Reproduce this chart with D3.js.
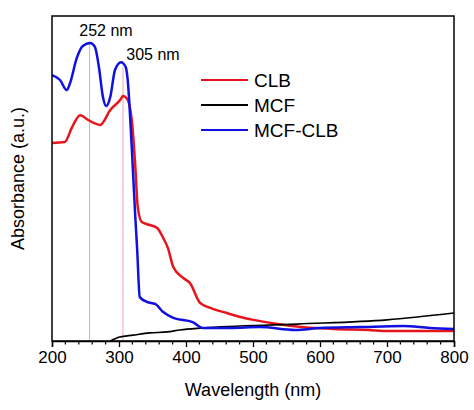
<!DOCTYPE html>
<html>
<head>
<meta charset="utf-8">
<script src="https://cdn.jsdelivr.net/npm/d3@7"></script>
<style>
  body { margin: 0; background: #fff; }
  svg { font-family: Arial, "Liberation Sans", sans-serif; }
</style>
</head>
<body>
<div id="chart"></div>
<script>
// wavelength (nm) and absorbance (a.u., arbitrary 0-100)
const clbWave = [200, 219, 230, 242, 254, 272, 287, 302, 306, 313, 319, 324, 328, 334, 346, 357, 366, 373, 381, 396, 406, 421, 436, 461, 481, 501, 537, 572, 621, 672, 702, 800];
const clbAbs  = [60.9, 61.2, 65.8, 69.5, 68.0, 66.5, 71.1, 74.2, 75.4, 74.2, 68.0, 54.8, 41.2, 36.6, 35.7, 34.8, 31.7, 28.6, 22.8, 19.4, 17.8, 11.7, 10.2, 8.6, 7.4, 6.5, 5.2, 4.3, 3.7, 3.4, 3.1, 3.1];

const mcfWave = [287, 301, 321, 346, 372, 391, 425, 566, 700, 800];
const mcfAbs  = [0, 1.2, 1.8, 2.5, 2.8, 3.4, 4.0, 5.2, 6.5, 8.6];

const mcfClbWave = [200, 212, 222, 227, 237, 246, 257, 264, 270, 276, 281, 287, 294, 303, 310, 313, 319, 324, 327, 331, 342, 354, 366, 381, 410, 425, 466, 510, 563, 600, 660, 724, 764, 800];
const mcfClbAbs  = [81.8, 80.3, 77.2, 79.4, 87.1, 90.8, 91.7, 90.5, 84.3, 75.1, 72.3, 75.1, 83.4, 85.8, 84.3, 80.3, 59.7, 39.4, 28.6, 13.5, 12.0, 11.4, 8.9, 7.1, 5.8, 4.0, 4.0, 4.3, 3.4, 4.0, 4.3, 4.6, 4.0, 3.7];

const peakWave   = [256, 306];
const peakLabels = ["252 nm", "305 nm"];
const xTicks = [200, 300, 400, 500, 600, 700, 800];

const seriesNames  = ["CLB", "MCF", "MCF-CLB"];
const seriesColors = ["#e8141c", "#000000", "#1010e0"];

const width = 474, height = 410;
const margin = { left: 52, right: 20, top: 16, bottom: 69 };

const svg = d3.select("#chart").append("svg")
    .attr("width", width)
    .attr("height", height);

const x = d3.scaleLinear().domain([200, 800]).range([margin.left, width - margin.right]);
const y = d3.scaleLinear().domain([0, 100]).range([height - margin.bottom, margin.top]);

function toPoints(ws, as) {
    return ws.map((w, i) => [w, as[i]]);
}

const series = [
    { name: "CLB", pts: toPoints(clbWave, clbAbs), color: seriesColors[0], width: 2.5 },
    { name: "MCF", pts: toPoints(mcfWave, mcfAbs), color: seriesColors[1], width: 1.6 },
    { name: "MCF-CLB", pts: toPoints(mcfClbWave, mcfClbAbs), color: seriesColors[2], width: 2.5 }
];

// pink guide lines under the peaks
peakWave.forEach(w => {
    const i = d3.bisectLeft(mcfClbWave, w);
    const top = mcfClbAbs[Math.min(i, mcfClbAbs.length - 1)];
    svg.append("line")
        .attr("x1", x(w)).attr("x2", x(w))
        .attr("y1", y(0)).attr("y2", y(top))
        .attr("stroke", "#f4a6a6")
        .attr("stroke-width", 1);
});

const line = d3.line()
    .x(d => x(d[0]))
    .y(d => y(d[1]))
    .curve(d3.curveMonotoneX);

series.forEach(s => {
    svg.append("path")
        .datum(s.pts)
        .attr("fill", "none")
        .attr("stroke", s.color)
        .attr("stroke-width", s.width)
        .attr("stroke-linejoin", "round")
        .attr("d", line);
});

// frame
svg.append("rect")
    .attr("x", x(200)).attr("y", y(100))
    .attr("width", x(800) - x(200))
    .attr("height", y(0) - y(100))
    .attr("fill", "none")
    .attr("stroke", "#000")
    .attr("stroke-width", 1.5);

// x axis
const xAxis = d3.axisBottom(x)
    .tickValues(xTicks)
    .tickSize(6)
    .tickPadding(4)
    .tickFormat(d3.format("d"));
const gx = svg.append("g")
    .attr("transform", `translate(0,${y(0)})`)
    .call(xAxis);
gx.select(".domain").attr("stroke-width", 1.5);
gx.selectAll(".tick line").attr("stroke-width", 1.3);
gx.selectAll(".tick text").attr("font-size", 17).attr("fill", "#000")
    .attr("font-family", "Arial, 'Liberation Sans', sans-serif");

const minor = d3.range(200, 801, 20).filter(v => v % 100 !== 0);
svg.append("g").selectAll("line")
    .data(minor)
    .join("line")
    .attr("x1", d => x(d)).attr("x2", d => x(d))
    .attr("y1", y(0)).attr("y2", y(0) + 3.5)
    .attr("stroke", "#000")
    .attr("stroke-width", 1.2);

// axis titles
svg.append("text")
    .attr("x", (x(200) + x(800)) / 2)
    .attr("y", 396)
    .attr("text-anchor", "middle")
    .attr("font-size", 18)
    .text("Wavelength (nm)");

svg.append("text")
    .attr("transform", `translate(24,${(y(0) + y(100)) / 2}) rotate(-90)`)
    .attr("text-anchor", "middle")
    .attr("font-size", 18)
    .text("Absorbance (a.u.)");

// peak labels
svg.append("text").attr("x", 106).attr("y", 36)
    .attr("text-anchor", "middle").attr("font-size", 16).text(peakLabels[0]);
svg.append("text").attr("x", 153).attr("y", 60)
    .attr("text-anchor", "middle").attr("font-size", 16).text(peakLabels[1]);

// legend
const legend = svg.append("g").attr("transform", "translate(201,80)");
seriesNames.forEach((name, i) => {
    const g = legend.append("g").attr("transform", `translate(0,${i * 25})`);
    g.append("line")
        .attr("x1", 0).attr("x2", 47)
        .attr("stroke", seriesColors[i])
        .attr("stroke-width", 2);
    g.append("text")
        .attr("x", 53).attr("y", 7)
        .attr("font-size", 19)
        .text(name);
});
</script>
</body>
</html>
